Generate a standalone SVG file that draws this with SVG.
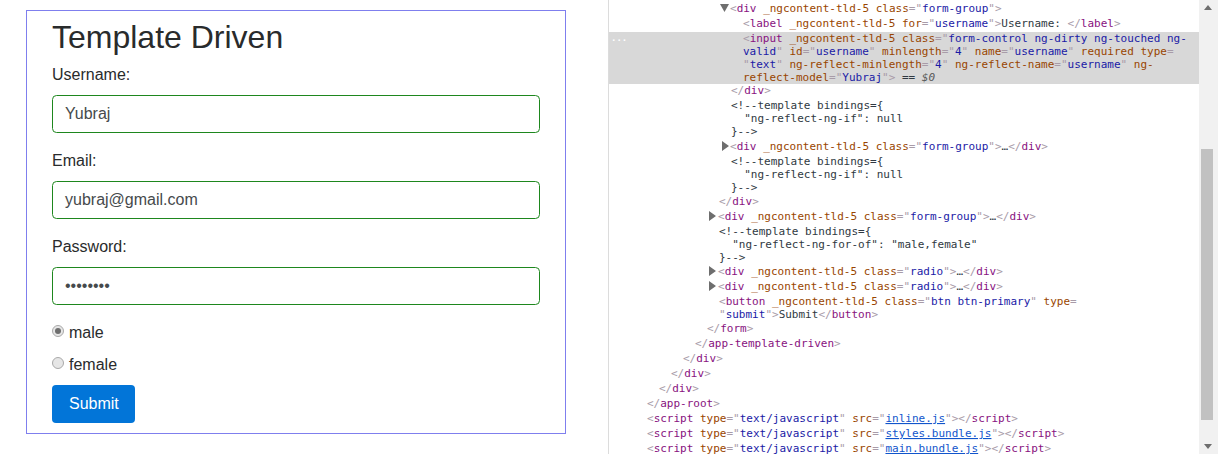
<svg xmlns="http://www.w3.org/2000/svg" width="1218" height="454" viewBox="0 0 1218 454">
<style>
.s{font-family:"Liberation Sans",Arial,sans-serif;fill:#292b2c;font-size:16px}
.i{fill:#fff;stroke:#1e871e;stroke-width:1}
.iv{font-family:"Liberation Sans",Arial,sans-serif;fill:#464a4c;font-size:16px}
.m text{font-family:"DejaVu Sans Mono",monospace;font-size:11px;fill:#303942;white-space:pre}
.b{fill:#a89ba8}.t{fill:#881280}.a{fill:#994500}.v{fill:#1a1aa6}.c{fill:#236e25}.l{fill:#1155cc;text-decoration:underline}
.ar{fill:#6e6e6e}
</style>
<rect width="1218" height="454" fill="#fff"/>
<g id="form">
<rect x="26.5" y="10.5" width="539" height="423" fill="#fff" stroke="#7f7fee"/>
<text class="s" x="52" y="48" style="font-size:32px">Template Driven</text>
<text class="s" x="52" y="80">Username:</text>
<rect class="i" x="52.5" y="95.5" width="487" height="37" rx="4"/>
<text class="iv" x="65" y="119">Yubraj</text>
<text class="s" x="52" y="166">Email:</text>
<rect class="i" x="52.5" y="181.5" width="487" height="37" rx="4"/>
<text class="iv" x="65" y="205">yubraj@gmail.com</text>
<text class="s" x="52" y="252">Password:</text>
<rect class="i" x="52.5" y="267.5" width="487" height="37" rx="4"/>
<text class="iv" x="65" y="291">••••••••</text>
<circle cx="58" cy="331" r="5.5" fill="#e6e6e6" stroke="#a9a9a9"/>
<circle cx="58" cy="331" r="3" fill="#6e6e6e"/>
<text class="s" x="69" y="338">male</text>
<circle cx="58" cy="363" r="5.5" fill="#e6e6e6" stroke="#a9a9a9"/>
<text class="s" x="69" y="370">female</text>
<rect x="52" y="385" width="83" height="38" rx="4" fill="#0275d8"/>
<text x="69" y="409" style="font-family:'Liberation Sans',Arial,sans-serif;font-size:16px;fill:#fff">Submit</text>
</g>
<g id="devtools">
<rect x="608" y="0" width="1" height="454" fill="#dcdcdc"/>
<rect x="609" y="32" width="590" height="52" fill="#d8d8d8"/>
<text x="611" y="41" style="font-family:'DejaVu Sans Mono',monospace;font-size:9px;font-weight:bold;fill:#fff">...</text>
<rect x="1199" y="0" width="19" height="454" fill="#f1f1f1"/>
<rect x="1201" y="149" width="12" height="271" fill="#c1c1c1"/>
<path class="ar" d="M1204 10h8l-4-5zM1204 444h8l-4 5z" fill="#505050"/>
<path class="ar" d="M720 4h9l-4.500 8zM722 141v10l7-5zM709 211v10l7-5zM709 266v10l7-5zM709 281v10l7-5z"/>
<g class="m">
<text x="730" y="12"><tspan class="b">&lt;</tspan><tspan class="t">div</tspan> <tspan class="a">_ngcontent-tld-5</tspan> <tspan class="a">class</tspan><tspan class="b">="</tspan><tspan class="v">form-group</tspan><tspan class="b">"&gt;</tspan></text>
<text x="743" y="27"><tspan class="b">&lt;</tspan><tspan class="t">label</tspan> <tspan class="a">_ngcontent-tld-5</tspan> <tspan class="a">for</tspan><tspan class="b">="</tspan><tspan class="v">username</tspan><tspan class="b">"&gt;</tspan>Username: <tspan class="b">&lt;/</tspan><tspan class="t">label</tspan><tspan class="b">&gt;</tspan></text>
<text x="743" y="42"><tspan class="b">&lt;</tspan><tspan class="t">input</tspan> <tspan class="a">_ngcontent-tld-5</tspan> <tspan class="a">class</tspan><tspan class="b">="</tspan><tspan class="v">form-control ng-dirty ng-touched ng-</tspan></text>
<text x="743" y="55"><tspan class="v">valid</tspan><tspan class="b">"</tspan> <tspan class="a">id</tspan><tspan class="b">="</tspan><tspan class="v">username</tspan><tspan class="b">"</tspan> <tspan class="a">minlength</tspan><tspan class="b">="</tspan><tspan class="v">4</tspan><tspan class="b">"</tspan> <tspan class="a">name</tspan><tspan class="b">="</tspan><tspan class="v">username</tspan><tspan class="b">"</tspan> <tspan class="a">required</tspan> <tspan class="a">type</tspan><tspan class="b">=</tspan></text>
<text x="743" y="68"><tspan class="b">"</tspan><tspan class="v">text</tspan><tspan class="b">"</tspan> <tspan class="a">ng-reflect-minlength</tspan><tspan class="b">="</tspan><tspan class="v">4</tspan><tspan class="b">"</tspan> <tspan class="a">ng-reflect-name</tspan><tspan class="b">="</tspan><tspan class="v">username</tspan><tspan class="b">"</tspan> <tspan class="a">ng-</tspan></text>
<text x="743" y="81"><tspan class="a">reflect-model</tspan><tspan class="b">="</tspan><tspan class="v">Yubraj</tspan><tspan class="b">"&gt;</tspan> == <tspan style="font-style:italic;fill:#5a5a5a">$0</tspan></text>
<text x="731" y="94"><tspan class="b">&lt;/</tspan><tspan class="t">div</tspan><tspan class="b">&gt;</tspan></text>
<text x="731" y="109" class="c">&lt;!--template bindings={</text>
<text x="731" y="122" class="c">  "ng-reflect-ng-if": null</text>
<text x="731" y="135" class="c">}--&gt;</text>
<text x="730" y="150"><tspan class="b">&lt;</tspan><tspan class="t">div</tspan> <tspan class="a">_ngcontent-tld-5</tspan> <tspan class="a">class</tspan><tspan class="b">="</tspan><tspan class="v">form-group</tspan><tspan class="b">"&gt;</tspan>…<tspan class="b">&lt;/</tspan><tspan class="t">div</tspan><tspan class="b">&gt;</tspan></text>
<text x="731" y="165" class="c">&lt;!--template bindings={</text>
<text x="731" y="178" class="c">  "ng-reflect-ng-if": null</text>
<text x="731" y="191" class="c">}--&gt;</text>
<text x="719" y="205"><tspan class="b">&lt;/</tspan><tspan class="t">div</tspan><tspan class="b">&gt;</tspan></text>
<text x="718" y="220"><tspan class="b">&lt;</tspan><tspan class="t">div</tspan> <tspan class="a">_ngcontent-tld-5</tspan> <tspan class="a">class</tspan><tspan class="b">="</tspan><tspan class="v">form-group</tspan><tspan class="b">"&gt;</tspan>…<tspan class="b">&lt;/</tspan><tspan class="t">div</tspan><tspan class="b">&gt;</tspan></text>
<text x="719" y="235" class="c">&lt;!--template bindings={</text>
<text x="719" y="248" class="c">  "ng-reflect-ng-for-of": "male,female"</text>
<text x="719" y="261" class="c">}--&gt;</text>
<text x="718" y="275"><tspan class="b">&lt;</tspan><tspan class="t">div</tspan> <tspan class="a">_ngcontent-tld-5</tspan> <tspan class="a">class</tspan><tspan class="b">="</tspan><tspan class="v">radio</tspan><tspan class="b">"&gt;</tspan>…<tspan class="b">&lt;/</tspan><tspan class="t">div</tspan><tspan class="b">&gt;</tspan></text>
<text x="718" y="290"><tspan class="b">&lt;</tspan><tspan class="t">div</tspan> <tspan class="a">_ngcontent-tld-5</tspan> <tspan class="a">class</tspan><tspan class="b">="</tspan><tspan class="v">radio</tspan><tspan class="b">"&gt;</tspan>…<tspan class="b">&lt;/</tspan><tspan class="t">div</tspan><tspan class="b">&gt;</tspan></text>
<text x="719" y="305"><tspan class="b">&lt;</tspan><tspan class="t">button</tspan> <tspan class="a">_ngcontent-tld-5</tspan> <tspan class="a">class</tspan><tspan class="b">="</tspan><tspan class="v">btn btn-primary</tspan><tspan class="b">"</tspan> <tspan class="a">type</tspan><tspan class="b">=</tspan></text>
<text x="719" y="318"><tspan class="b">"</tspan><tspan class="v">submit</tspan><tspan class="b">"&gt;</tspan>Submit<tspan class="b">&lt;/</tspan><tspan class="t">button</tspan><tspan class="b">&gt;</tspan></text>
<text x="707" y="332"><tspan class="b">&lt;/</tspan><tspan class="t">form</tspan><tspan class="b">&gt;</tspan></text>
<text x="695" y="347"><tspan class="b">&lt;/</tspan><tspan class="t">app-template-driven</tspan><tspan class="b">&gt;</tspan></text>
<text x="683" y="362"><tspan class="b">&lt;/</tspan><tspan class="t">div</tspan><tspan class="b">&gt;</tspan></text>
<text x="671" y="377"><tspan class="b">&lt;/</tspan><tspan class="t">div</tspan><tspan class="b">&gt;</tspan></text>
<text x="659" y="392"><tspan class="b">&lt;/</tspan><tspan class="t">div</tspan><tspan class="b">&gt;</tspan></text>
<text x="647" y="407"><tspan class="b">&lt;/</tspan><tspan class="t">app-root</tspan><tspan class="b">&gt;</tspan></text>
<text x="647" y="422"><tspan class="b">&lt;</tspan><tspan class="t">script</tspan> <tspan class="a">type</tspan><tspan class="b">="</tspan><tspan class="v">text/javascript</tspan><tspan class="b">"</tspan> <tspan class="a">src</tspan><tspan class="b">="</tspan><tspan class="l">inline.js</tspan><tspan class="b">"&gt;&lt;/</tspan><tspan class="t">script</tspan><tspan class="b">&gt;</tspan></text>
<text x="647" y="437"><tspan class="b">&lt;</tspan><tspan class="t">script</tspan> <tspan class="a">type</tspan><tspan class="b">="</tspan><tspan class="v">text/javascript</tspan><tspan class="b">"</tspan> <tspan class="a">src</tspan><tspan class="b">="</tspan><tspan class="l">styles.bundle.js</tspan><tspan class="b">"&gt;&lt;/</tspan><tspan class="t">script</tspan><tspan class="b">&gt;</tspan></text>
<text x="647" y="452"><tspan class="b">&lt;</tspan><tspan class="t">script</tspan> <tspan class="a">type</tspan><tspan class="b">="</tspan><tspan class="v">text/javascript</tspan><tspan class="b">"</tspan> <tspan class="a">src</tspan><tspan class="b">="</tspan><tspan class="l">main.bundle.js</tspan><tspan class="b">"&gt;&lt;/</tspan><tspan class="t">script</tspan><tspan class="b">&gt;</tspan></text>
</g>
</g>
</svg>
